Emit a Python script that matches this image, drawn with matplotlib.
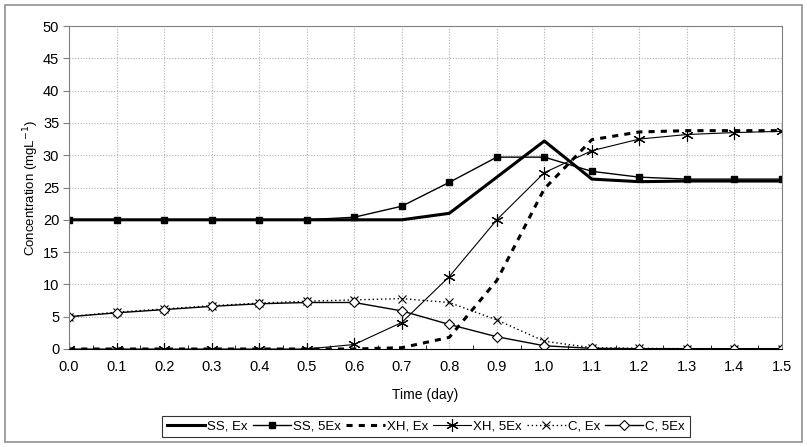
import numpy as np
import matplotlib
matplotlib.use('Agg')
import matplotlib.pyplot as plt
from matplotlib.patches import Rectangle

plt.rcParams['font.family'] = ['Liberation Sans', 'DejaVu Sans']

# time points (day)
time = [0.0, 0.1, 0.2, 0.3, 0.4, 0.5, 0.6, 0.7, 0.8, 0.9, 1.0, 1.1, 1.2, 1.3, 1.4, 1.5]

# concentrations
ss_ex = [20, 20, 20, 20, 20, 20, 20, 20, 21.0, 26.6, 32.2, 26.3, 25.9, 26.0, 26.0, 26.0]
ss_5ex = [20, 20, 20, 20, 20, 20, 20.4, 22.1, 25.8, 29.7, 29.7, 27.5, 26.6, 26.3, 26.3, 26.3]
xh_ex = [0, 0, 0, 0, 0, 0, 0, 0.2, 1.8, 10.6, 24.8, 32.4, 33.6, 33.8, 33.8, 33.8]
xh_5ex = [0, 0, 0, 0, 0, 0, 0.7, 4.1, 11.2, 20.0, 27.3, 30.7, 32.5, 33.2, 33.5, 33.7]
c_ex = [5.0, 5.7, 6.2, 6.7, 7.1, 7.4, 7.6, 7.8, 7.2, 4.5, 1.2, 0.2, 0.1, 0.05, 0.05, 0.05]
c_5ex = [5.0, 5.6, 6.1, 6.6, 7.0, 7.2, 7.2, 5.9, 3.8, 1.9, 0.5, 0.1, 0.05, 0.05, 0.05, 0.05]

fig = plt.figure(figsize=(8.07, 4.47), dpi=100)
ax = fig.add_axes([69/807, 1 - 349/447, (782 - 69)/807, (349 - 26)/447])

ax.plot(time, ss_ex, color='black', lw=2.2, label='SS, Ex')
ax.plot(time, ss_5ex, color='black', lw=1, marker='s', ms=5, label='SS, 5Ex')
ax.plot(time, xh_ex, color='black', lw=2.2, linestyle=(0, (2, 2)), label='XH, Ex')
ax.plot(time, xh_5ex, color='black', lw=0.8, marker=(6, 2, 0), ms=9, mew=0.8, label='XH, 5Ex')
ax.plot(time, c_ex, color='black', lw=1, linestyle=(0, (1, 2)), marker='x', ms=6, mew=0.8, label='C, Ex')
ax.plot(time, c_5ex, color='black', lw=1, marker='D', ms=5, mfc='white', mew=0.8, label='C, 5Ex')

ax.set_xlim(0, 1.5)
ax.set_ylim(0, 50)
ax.set_xticks(np.arange(0, 1.51, 0.1))
ax.set_xticklabels(['%.1f' % t for t in np.arange(0, 1.51, 0.1)])
ax.set_xticks(np.arange(0.05, 1.5, 0.1), minor=True)
ax.set_yticks(range(0, 51, 5))
ax.tick_params(axis='both', labelsize=10.5, color='#808080')
ax.tick_params(axis='x', which='major', length=0, pad=8)
ax.tick_params(axis='x', which='minor', direction='in', length=3)
ax.tick_params(axis='y', length=4, pad=3)
ax.grid(True, color='#b0b0b0', linestyle=(0, (1, 1.5)), lw=0.8)
for s in ax.spines.values():
    s.set_color('#808080')
ax.spines['bottom'].set_color('black')

ax.set_xlabel('Time (day)', fontsize=10, labelpad=10)
ax.set_ylabel('Concentration (mgL$^{-1}$)', fontsize=9.5)
ax.yaxis.set_label_coords(-0.039, 0.5)

# outer frame
fig.patches.append(Rectangle((5/807, 1 - 442/447), 797/807, 437/447, transform=fig.transFigure,
                             fill=False, edgecolor='#909090', lw=1.2))

leg = fig.legend(loc='center', bbox_to_anchor=(426/807, 1 - 426.5/447), ncol=6, fontsize=9.5,
                 frameon=True, fancybox=False, edgecolor='black', handlelength=2.9, numpoints=1,
                 handletextpad=0.15, columnspacing=0.4, borderpad=0.35)
leg.get_frame().set_linewidth(0.8)

fig.savefig('out.png', dpi=100)
